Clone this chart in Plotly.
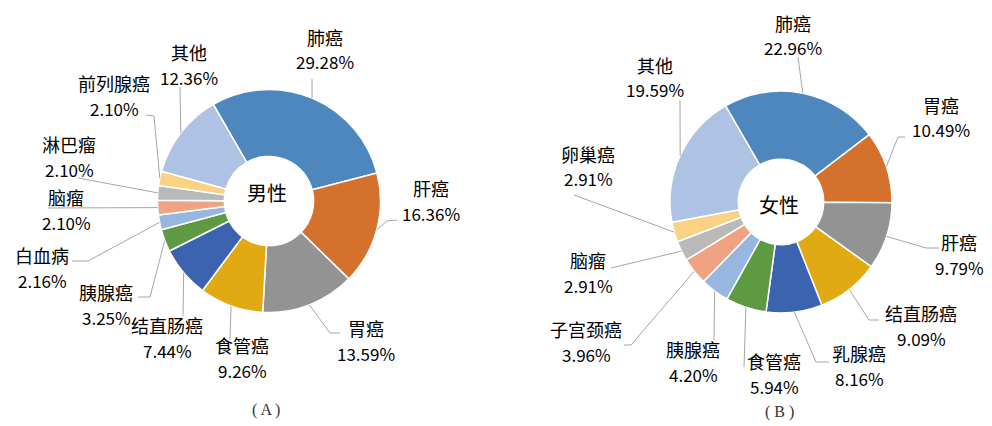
import math
import plotly.graph_objects as go

# ---------------- data ----------------
male_labels = ["肺癌", "肝癌", "胃癌", "食管癌", "结直肠癌", "胰腺癌", "白血病", "脑瘤", "淋巴瘤", "前列腺癌", "其他"]
male_values = [29.28, 16.36, 13.59, 9.26, 7.44, 3.25, 2.16, 2.10, 2.10, 2.10, 12.36]

female_labels = ["肺癌", "胃癌", "肝癌", "结直肠癌", "乳腺癌", "食管癌", "胰腺癌", "子宫颈癌", "脑瘤", "卵巢癌", "其他"]
female_values = [22.96, 10.49, 9.79, 9.09, 8.16, 5.94, 4.20, 3.96, 2.91, 2.91, 19.59]

center_titles = ["男性", "女性"]
panel_titles = ["( A )", "( B )"]

# ---------------- style / layout ----------------
W, H = 992, 426
colors = ["#4E86BE", "#D4712D", "#939393", "#E2AA12", "#3B63B0", "#5E9A42",
          "#98B7E0", "#F0A383", "#B9B9B9", "#FAD283", "#AEC3E4"]
ROT = -30
FONT = "Noto Sans CJK SC"
LINE_COLOR = "#A6A6A6"
TEXT_COLOR = "#000000"

# pie geometry in pixels: center x, center y, radius, hole
pies = [
    dict(cx=269, cy=201, r=111.5, hole=0.40),
    dict(cx=781, cy=202, r=111.0, hole=0.385),
]

# label placement (pixel position of name line, leader start points)
male_lab = [
    dict(x=325, y=37, pts=[(312, 79)]),
    dict(x=431, y=188, pts=[(397, 220), (387, 221)]),
    dict(x=366, y=328, pts=[(340, 333), (330, 333)]),
    dict(x=242, y=345, pts=[(230, 340)]),
    dict(x=167, y=325, pts=[(183, 316)]),
    dict(x=106, y=292, pts=[(138, 297), (150, 297)]),
    dict(x=42, y=255, pts=[(72, 261), (88, 261)]),
    dict(x=66, y=197, pts=[(48, 208)]),
    dict(x=69, y=144, pts=[(78, 178)]),
    dict(x=114, y=83, pts=[(146, 115), (154, 116)]),
    dict(x=189, y=52, pts=[(180, 87)]),
]
female_lab = [
    dict(x=793, y=23, pts=[(798, 57)]),
    dict(x=941, y=105, pts=[(905, 137), (898, 137)]),
    dict(x=959, y=242, pts=[(939, 248), (926, 248)]),
    dict(x=921, y=313, pts=[(879, 320), (869, 320)]),
    dict(x=859, y=353, pts=[(829, 362), (816, 362)]),
    dict(x=774, y=361, pts=[(744, 367)]),
    dict(x=693, y=349, pts=[(714, 340)]),
    dict(x=586, y=329, pts=[(624, 345), (631, 345)]),
    dict(x=588, y=260, pts=[(611, 268)]),
    dict(x=588, y=154, pts=[(574, 195)]),
    dict(x=655, y=65, pts=[(680, 100)]),
]
center_pos = [(267, 192), (779, 205)]
title_pos = [(266, 410), (779, 412)]


def px(x):
    return x / W


def py(y):
    return 1 - y / H


fig = go.Figure()
annotations = []
shapes = []

for k, (labels, values, labpos) in enumerate([(male_labels, male_values, male_lab),
                                               (female_labels, female_values, female_lab)]):
    g = pies[k]
    fig.add_trace(go.Pie(
        labels=labels, values=values, sort=False, direction="clockwise",
        rotation=ROT, hole=g["hole"], textinfo="none", hoverinfo="label+percent",
        marker=dict(colors=colors, line=dict(color="white", width=1.5)),
        domain=dict(x=[px(g["cx"] - g["r"]), px(g["cx"] + g["r"])],
                    y=[py(g["cy"] + g["r"]), py(g["cy"] - g["r"])]),
        showlegend=False,
    ))
    total = sum(values)
    cum = 0.0
    for i, v in enumerate(values):
        mid = math.radians(ROT + 360.0 * (cum + v / 2) / total)
        cum += v
        ex = g["cx"] + g["r"] * math.sin(mid)
        ey = g["cy"] - g["r"] * math.cos(mid)
        lp = labpos[i]
        pts = list(lp["pts"]) + [(ex, ey)]
        for (x0, y0), (x1, y1) in zip(pts[:-1], pts[1:]):
            shapes.append(dict(type="line", xref="paper", yref="paper",
                               x0=px(x0), y0=py(y0), x1=px(x1), y1=py(y1),
                               line=dict(color=LINE_COLOR, width=1)))
        annotations.append(dict(x=px(lp["x"]), y=py(lp["y"]), xref="paper", yref="paper",
                                text=labels[i], showarrow=False, xanchor="center", yanchor="middle",
                                font=dict(family=FONT, size=18, color=TEXT_COLOR)))
        annotations.append(dict(x=px(lp["x"]), y=py(lp["y"] + 25), xref="paper", yref="paper",
                                text=f"{v:.2f}%", showarrow=False, xanchor="center", yanchor="middle",
                                font=dict(family=FONT, size=17, color=TEXT_COLOR)))
    cxp, cyp = center_pos[k]
    annotations.append(dict(x=px(cxp), y=py(cyp), xref="paper", yref="paper", text=center_titles[k],
                            showarrow=False, xanchor="center", yanchor="middle",
                            font=dict(family=FONT, size=20, color=TEXT_COLOR)))
    tx, ty = title_pos[k]
    annotations.append(dict(x=px(tx), y=py(ty), xref="paper", yref="paper",
                            text=panel_titles[k], showarrow=False, xanchor="center", yanchor="middle",
                            font=dict(family="Liberation Serif", size=16, color="#333333")))

fig.update_layout(
    width=W, height=H, margin=dict(l=0, r=0, t=0, b=0),
    paper_bgcolor="white", plot_bgcolor="white",
    annotations=annotations, shapes=shapes,
)

fig.write_html("out.html")
